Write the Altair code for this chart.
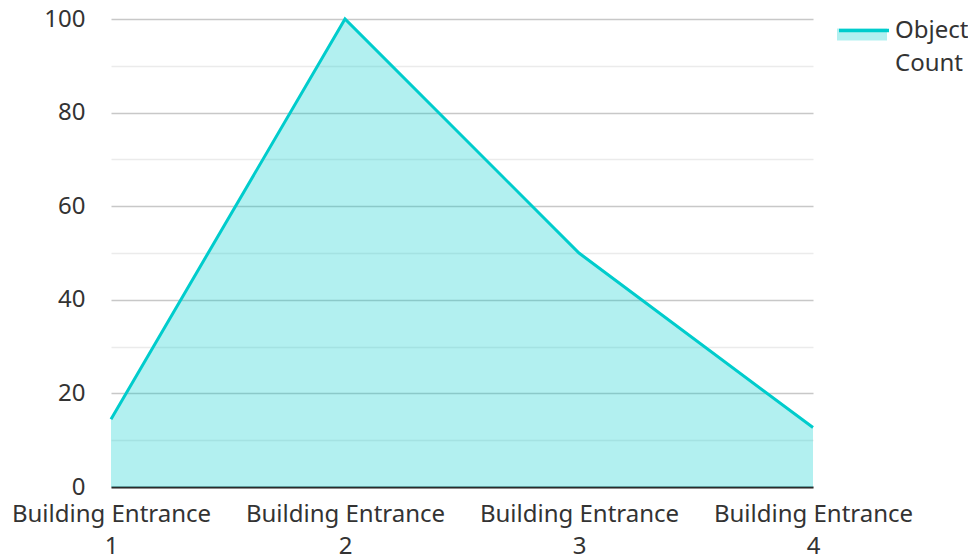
import altair as alt
import pandas as pd

categories = ["Building Entrance 1", "Building Entrance 2", "Building Entrance 3", "Building Entrance 4"]
object_count = [14.5, 100, 50, 12.7]
series_name = "Object Count"

df = pd.DataFrame({
    "location": categories,
    "count": object_count,
    "series": [series_name] * len(categories),
    "series_line": [series_name] * len(categories),
})

LINE = "#00CCCC"
TEXT = "#333333"
FONT = "Noto Sans"
FS = 24

x = alt.X(
    "location:N",
    sort=categories,
    scale=alt.Scale(type="point", padding=0),
    axis=alt.Axis(
        title=None, labelAngle=0, labelFontSize=FS, labelColor=TEXT, labelFont=FONT,
        labelExpr="[slice(datum.label, 0, 17), slice(datum.label, 18)]",
        labelLineHeight=32, labelPadding=15, ticks=False, domainColor="#2a2a2a",
        domainWidth=2, grid=False, labelLimit=400,
    ),
)
y = alt.Y(
    "count:Q",
    scale=alt.Scale(domain=[0, 100], nice=False),
    axis=alt.Axis(
        title=None, values=list(range(0, 101, 10)),
        labelExpr="datum.value % 20 == 0 ? datum.label : ''",
        labelFontSize=FS, labelColor=TEXT, labelFont=FONT, labelPadding=26,
        ticks=False, domain=False,
        gridColor={"condition": {"test": "datum.value % 20 === 0", "value": "#c8c8c8"}, "value": "#ebebeb"},
        gridWidth=1.5,
    ),
)

common = dict(
    title=None, orient="none", legendX=726, legendY=-13,
    symbolSize=2500, labelFontSize=FS, labelFont=FONT, labelOffset=8,
)
fill_legend = alt.Legend(
    symbolType="M-1,-0.1H1V0.38H-1Z", symbolStrokeWidth=0, symbolOpacity=0.3,
    labelExpr="['Object', 'Count']", labelColor=TEXT, **common,
)
line_legend = alt.Legend(
    symbolType="M-1,-0.1H1", symbolStrokeWidth=3.5, symbolFillColor="transparent",
    labelExpr="['', '']", labelColor=TEXT, **common,
)

area = alt.Chart(df).mark_area(opacity=0.3).encode(
    x=x, y=y,
    fill=alt.Fill("series:N", scale=alt.Scale(range=[LINE]), legend=fill_legend),
)
line = alt.Chart(df).mark_line(strokeWidth=3).encode(
    x=x, y=y,
    stroke=alt.Stroke("series_line:N", scale=alt.Scale(range=[LINE]), legend=line_legend),
)

chart = (area + line).properties(
    width=702, height=468,
    autosize=alt.AutoSizeParams(type="none"),
    padding={"left": 103, "top": 11, "right": 155, "bottom": 71},
).configure(
    font=FONT, style={"guide-label": {"lineHeight": 33}}
).configure_view(stroke=None)

chart.save("out.html", embed_options={"renderer": "svg", "actions": False})
